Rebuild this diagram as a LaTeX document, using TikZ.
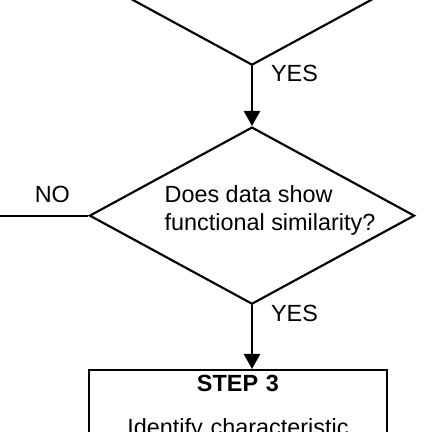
\documentclass[tikz,border=0pt]{standalone}
\usepackage{fontspec}
\setmainfont{Liberation Sans}
\usepackage{tikz}
\usetikzlibrary{calc,shapes.geometric,arrows.meta}

\begin{document}
\begin{tikzpicture}[font=\fontsize{18.5}{22}\selectfont, line width=1.7pt, >={Triangle[length=0.42cm,width=0.45cm]}]
        \tikzstyle{decision}=[draw,diamond,minimum width=9.03cm,minimum height=4.92cm,inner sep=0pt]
        \tikzstyle{stepbox}=[draw,rectangle,minimum width=8.28cm,text width=8cm,align=center,inner ysep=0.15cm,text depth=3cm]
        \tikzstyle{answer}=[anchor=west,inner sep=0pt]
            \clip (0,0) rectangle (12,12);
            \node[decision] (Q1) at (7,12.65) {};
            \node[decision] (Q2) at ($(Q1)+(0,-6.64)$) {};
            \node[align=left,inner sep=0pt] (Q2text) at ($(Q2)+(0.5,0.15)$) {Does data show\\functional similarity?};

            \node[stepbox,anchor=north] (S3) at ($(Q2.south)+(-0.39,-1.77)$) {\textbf{STEP 3}\\[0.44cm]Identify characteristic};

            \node[answer] (Y1) at ($(Q1.south)+(0.5,-0.19)$) {YES};
            \node[answer] (Y2) at ($(Q2.south)+(0.5,-0.24)$) {YES};
            \node[inner sep=0pt] (N2) at ($(Q2.west)+(-1.0,0.59)$) {NO};
            \coordinate (N2end) at ($(Q2.west)+(-2.6,0)$);

            \draw[->] (Q1.south) -- (Q2.north);
            \draw[->] (Q2.south) -- (Q2.south |- S3.north);
            \draw (Q2.west) -- (N2end);

        \end{tikzpicture}
\end{document}
